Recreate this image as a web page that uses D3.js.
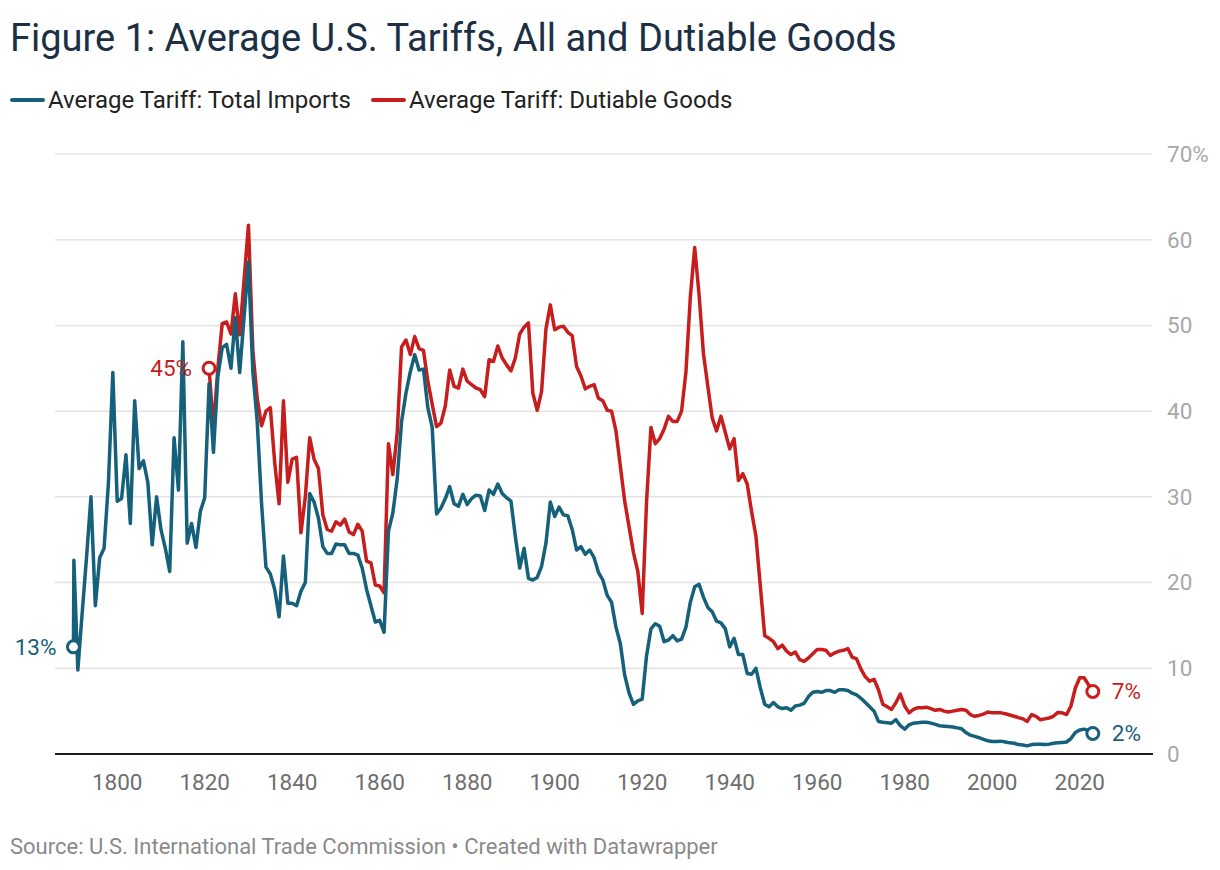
<!DOCTYPE html>
<html>
<head>
<meta charset="utf-8">
<script src="https://cdn.jsdelivr.net/npm/d3@7"></script>
<style>
  body { margin: 0; background: #fff; }
  svg { display: block; font-family: Roboto, "Noto Sans", sans-serif; }
</style>
</head>
<body>
<svg id="chart" width="1220" height="870"></svg>
<script>
// data
const seriesNames = ["Average Tariff: Total Imports", "Average Tariff: Dutiable Goods"];

// total imports: two points in 1790 (start and first spike), then one per year
const totalYears = [1790, 1790.1].concat(d3.range(1791, 2024));
const totalImports = [
  12.5, 22.6,
  9.8, 16.5, 23.0, 30.0, 17.3, 22.9, 24.0, 31.7, 44.5,            // 1791-1799
  29.5, 29.8, 34.9, 26.9, 41.2, 33.3, 34.2, 31.7, 24.4, 30.0,     // 1800s
  26.2, 24.0, 21.3, 36.9, 30.8, 48.1, 24.6, 26.9, 24.1, 28.3,     // 1810s
  29.9, 43.2, 35.2, 44.0, 47.4, 47.8, 45.0, 50.9, 44.5, 51.0,     // 1820s
  57.4, 44.6, 38.8, 29.2, 21.8, 21.0, 19.2, 16.0, 23.1, 17.6,     // 1830s
  17.6, 17.3, 19.0, 20.0, 30.4, 29.4, 27.5, 24.2, 23.4, 23.4,     // 1840s
  24.5, 24.4, 24.4, 23.4, 23.4, 23.2, 21.7, 19.2, 17.3, 15.4,     // 1850s
  15.6, 14.2, 26.0, 28.1, 32.1, 38.8, 42.1, 44.6, 46.6, 44.8,     // 1860s
  44.9, 40.4, 38.1, 28.0, 28.7, 29.8, 31.2, 29.2, 28.9, 30.3,     // 1870s
  29.1, 29.8, 30.2, 30.1, 28.4, 30.8, 30.3, 31.5, 30.4, 29.9,     // 1880s
  29.5, 25.4, 21.7, 24.0, 20.5, 20.3, 20.6, 21.9, 24.6, 29.4,     // 1890s
  27.7, 28.8, 27.9, 27.8, 26.2, 23.8, 24.2, 23.3, 23.8, 22.9,     // 1900s
  21.2, 20.3, 18.5, 17.7, 14.8, 12.9, 9.2, 7.1, 5.8, 6.2,         // 1910s
  6.4, 11.5, 14.6, 15.2, 14.9, 13.1, 13.3, 13.8, 13.2, 13.4,      // 1920s
  14.8, 17.7, 19.5, 19.8, 18.3, 17.1, 16.6, 15.5, 15.3, 14.6,     // 1930s
  12.5, 13.5, 11.6, 11.6, 9.4, 9.3, 10.0, 7.7, 5.8, 5.5,          // 1940s
  6.0, 5.5, 5.3, 5.4, 5.1, 5.6, 5.7, 5.9, 6.7, 7.2,               // 1950s
  7.3, 7.2, 7.4, 7.4, 7.2, 7.5, 7.5, 7.4, 7.1, 6.9,               // 1960s
  6.5, 6.0, 5.5, 5.0, 3.8, 3.7, 3.65, 3.6, 4.0, 3.3,              // 1970s
  2.9, 3.4, 3.6, 3.65, 3.7, 3.7, 3.6, 3.45, 3.3, 3.25,            // 1980s
  3.2, 3.15, 3.05, 2.95, 2.5, 2.2, 2.05, 1.9, 1.7, 1.55,          // 1990s
  1.45, 1.45, 1.5, 1.4, 1.3, 1.25, 1.1, 1.05, 0.95, 1.1,          // 2000s
  1.15, 1.15, 1.1, 1.15, 1.25, 1.3, 1.35, 1.4, 1.8, 2.5,          // 2010s
  2.8, 2.9, 2.75, 2.4                                             // 2020-2023
];

const dutiableYears = d3.range(1821, 2024);
const dutiableGoods = [
  45.0, 38.0, 45.0, 50.2, 50.4, 49.0, 53.7, 48.9, 55.3,           // 1821-1829
  61.7, 47.1, 41.5, 38.3, 40.0, 40.4, 34.0, 29.2, 41.2, 31.7,     // 1830s
  34.4, 34.6, 25.8, 30.0, 36.9, 34.4, 33.3, 27.9, 26.2, 26.0,     // 1840s
  27.1, 26.7, 27.4, 25.9, 25.6, 26.8, 26.0, 22.5, 22.3, 19.7,     // 1850s
  19.6, 18.8, 36.2, 32.6, 37.5, 47.5, 48.3, 46.6, 48.7, 47.3,     // 1860s
  47.1, 43.5, 40.8, 38.2, 38.6, 40.6, 44.8, 42.9, 42.7, 44.9,     // 1870s
  43.5, 43.1, 42.7, 42.5, 41.7, 46.0, 45.8, 47.6, 46.2, 45.4,     // 1880s
  44.7, 46.2, 49.0, 49.8, 50.3, 42.1, 40.1, 42.3, 49.6, 52.4,     // 1890s
  49.5, 49.8, 49.9, 49.2, 48.8, 45.2, 44.1, 42.6, 42.9, 43.1,     // 1900s
  41.5, 41.2, 40.1, 40.0, 37.7, 33.6, 29.5, 26.5, 23.5, 21.3,     // 1910s
  16.4, 29.5, 38.1, 36.2, 36.8, 37.9, 39.4, 38.8, 38.8, 40.0,     // 1920s
  44.6, 53.3, 59.1, 53.6, 46.7, 42.9, 39.2, 37.7, 39.4, 37.5,     // 1930s
  35.6, 36.8, 31.9, 32.7, 31.5, 28.3, 25.4, 19.6, 13.8, 13.5,     // 1940s
  13.1, 12.3, 12.7, 12.0, 11.6, 11.9, 11.0, 10.8, 11.2, 11.7,     // 1950s
  12.2, 12.2, 12.1, 11.5, 11.8, 12.0, 12.1, 12.3, 11.3, 11.1,     // 1960s
  9.9, 9.0, 8.5, 8.7, 7.5, 5.8, 5.5, 5.2, 6.0, 7.0,               // 1970s
  5.6, 4.8, 5.2, 5.4, 5.4, 5.45, 5.3, 5.1, 5.2, 5.0,              // 1980s
  4.9, 5.0, 5.1, 5.2, 5.1, 4.6, 4.4, 4.5, 4.65, 4.9,              // 1990s
  4.8, 4.8, 4.8, 4.7, 4.55, 4.4, 4.25, 4.1, 3.8, 4.6,             // 2000s
  4.4, 4.0, 4.1, 4.2, 4.4, 4.85, 4.8, 4.6, 5.6, 7.7,              // 2010s
  8.9, 8.9, 8.1, 7.3                                              // 2020-2023
];

const yTicks = [0, 10, 20, 30, 40, 50, 60, 70];
const xTicks = [1800, 1820, 1840, 1860, 1880, 1900, 1920, 1940, 1960, 1980, 2000, 2020];

const BLUE = "#15607a";
const RED = "#c71e1d";

const svg = d3.select("#chart");

// 軸・スケール
const x = d3.scaleLinear().domain([1800, 2020]).range([117.2, 1079.7]);
const y = d3.scaleLinear().domain([0, 70]).range([754, 154]);
const gridLeft = 55, gridRight = 1152;

// title
svg.append("text")
  .attr("x", 10).attr("y", 51)
  .attr("font-size", 38)
  .attr("fill", "#1b2f45")
  .text("Figure 1: Average U.S. Tariffs, All and Dutiable Goods");

// legend
const legend = svg.append("g").attr("transform", "translate(0,100)");
const legendItems = [
  { name: seriesNames[0], color: BLUE, x: 12 },
  { name: seriesNames[1], color: RED, x: 373 }
];
legendItems.forEach(function(d) {
  legend.append("line")
    .attr("x1", d.x).attr("x2", d.x + 31)
    .attr("y1", 0).attr("y2", 0)
    .attr("stroke", d.color).attr("stroke-width", 4)
    .attr("stroke-linecap", "round");
  legend.append("text")
    .attr("x", d.x + 36).attr("y", 0)
    .attr("dy", "0.35em")
    .attr("font-size", 24)
    .attr("fill", "#222")
    .text(d.name);
});

// gridlines + y labels (right side)
yTicks.forEach(function(t) {
  if (t > 0) {
    svg.append("line")
      .attr("x1", gridLeft).attr("x2", gridRight)
      .attr("y1", y(t)).attr("y2", y(t))
      .attr("stroke", "#e3e3e3").attr("stroke-width", 1.5);
  }
  svg.append("text")
    .attr("x", 1167).attr("y", y(t))
    .attr("dy", "0.35em")
    .attr("font-size", 22.5)
    .attr("fill", "#a8a8a8")
    .text(t === 70 ? t + "%" : t);
});

// baseline
svg.append("line")
  .attr("x1", gridLeft).attr("x2", gridRight + 1)
  .attr("y1", y(0)).attr("y2", y(0))
  .attr("stroke", "#1a1a1a").attr("stroke-width", 2);

// x tick labels
svg.selectAll(".xlabel")
  .data(xTicks)
  .enter().append("text")
  .attr("class", "xlabel")
  .attr("x", function(d) { return x(d); })
  .attr("y", 782)
  .attr("dy", "0.35em")
  .attr("text-anchor", "middle")
  .attr("font-size", 22.5)
  .attr("fill", "#6e6e6e")
  .text(function(d) { return d; });

// lines
const line = d3.line()
  .x(function(d) { return x(d[0]); })
  .y(function(d) { return y(d[1]); });

const totalData = d3.zip(totalYears, totalImports);
const dutiableData = d3.zip(dutiableYears, dutiableGoods);

svg.append("path")
  .datum(dutiableData)
  .attr("d", line)
  .attr("fill", "none")
  .attr("stroke", RED)
  .attr("stroke-width", 3.5)
  .attr("stroke-linejoin", "round");

svg.append("path")
  .datum(totalData)
  .attr("d", line)
  .attr("fill", "none")
  .attr("stroke", BLUE)
  .attr("stroke-width", 3.5)
  .attr("stroke-linejoin", "round");

// start / end markers with value labels
const markers = [
  { p: totalData[0], color: BLUE, side: "left" },
  { p: totalData[totalData.length - 1], color: BLUE, side: "right" },
  { p: dutiableData[0], color: RED, side: "left" },
  { p: dutiableData[dutiableData.length - 1], color: RED, side: "right" }
];
markers.forEach(function(m) {
  const cx = x(m.p[0]), cy = y(m.p[1]);
  svg.append("circle")
    .attr("cx", cx).attr("cy", cy).attr("r", 6)
    .attr("fill", "#fff")
    .attr("stroke", m.color).attr("stroke-width", 3);
  svg.append("text")
    .attr("x", m.side === "left" ? cx - 17 : cx + 19)
    .attr("y", cy)
    .attr("dy", "0.35em")
    .attr("text-anchor", m.side === "left" ? "end" : "start")
    .attr("font-size", 22.5)
    .attr("fill", m.color)
    .text(Math.round(m.p[1]) + "%");
});

// footer
svg.append("text")
  .attr("x", 10).attr("y", 846)
  .attr("dy", "0.35em")
  .attr("font-size", 22)
  .attr("fill", "#8a8a8a")
  .text("Source: U.S. International Trade Commission \u2022 Created with Datawrapper");
</script>
</body>
</html>
